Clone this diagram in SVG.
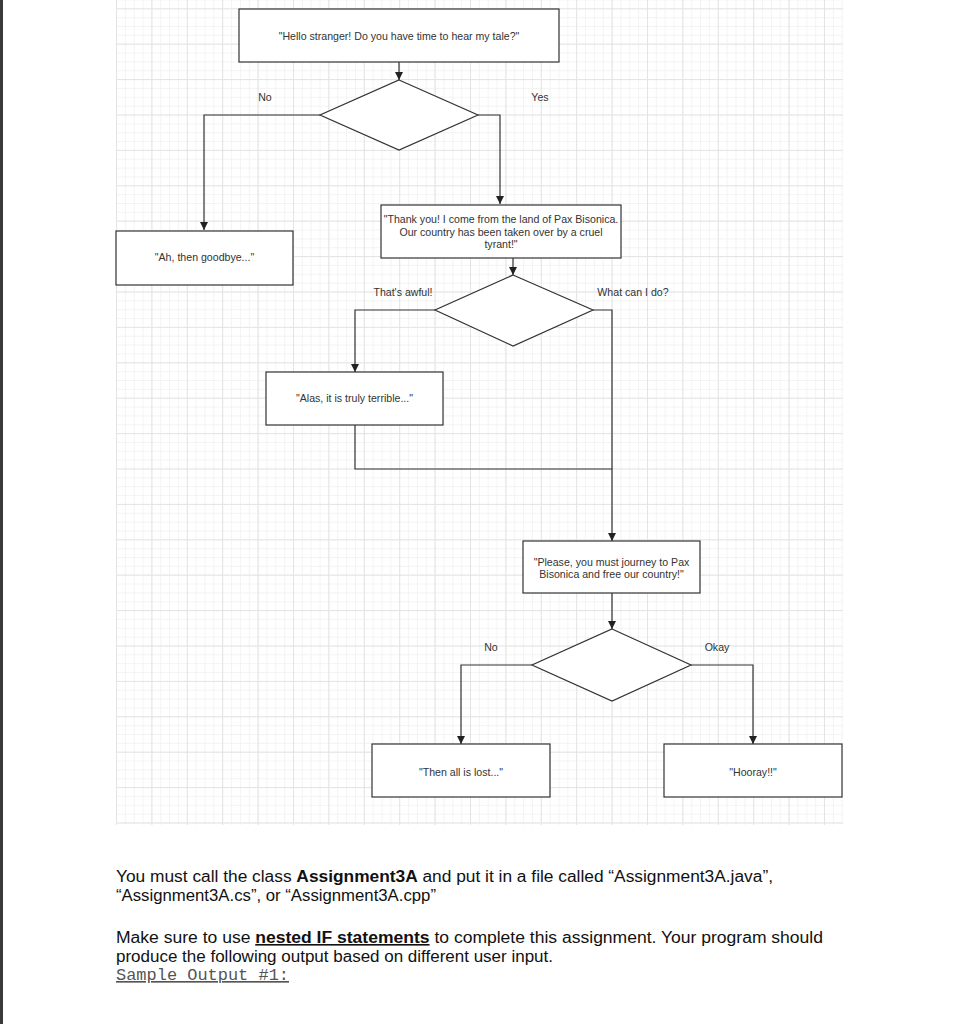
<svg xmlns="http://www.w3.org/2000/svg" width="954" height="1024" viewBox="0 0 954 1024">
<defs>
<pattern id="minor" patternUnits="userSpaceOnUse" x="116" y="8.3" width="8.85" height="8.85">
<path d="M0 0.5H8.85M0.5 0V8.85" fill="none" stroke="#f3f3f3" stroke-width="1"/>
</pattern>
<pattern id="major" patternUnits="userSpaceOnUse" x="116" y="8.3" width="35.4" height="35.4">
<path d="M0 0.5H35.4M0.5 0V35.4" fill="none" stroke="#e4e4e4" stroke-width="1"/>
</pattern>
<marker id="arr" markerUnits="userSpaceOnUse" markerWidth="10" markerHeight="10" refX="8" refY="4" orient="auto">
<path d="M0 0L8 4L0 8Z" fill="#222"/>
</marker>
<style>
.box{fill:#fff;stroke:#333;stroke-width:1.2}
.t{font-family:"Liberation Sans",Arial,sans-serif;font-size:10.6px;fill:#333;text-anchor:middle}
.c{fill:none;stroke:#333;stroke-width:1.2;marker-end:url(#arr)}
.cn{fill:none;stroke:#333;stroke-width:1.2}
.p{font-family:"Liberation Sans",Arial,sans-serif;font-size:16px;fill:#111}
</style>
</defs>
<rect width="954" height="1024" fill="#fff"/>
<rect x="0" y="0" width="3" height="1024" fill="#3a3a3a"/>
<rect x="116" y="0" width="727" height="825" fill="url(#minor)"/>
<rect x="116" y="0" width="727" height="825" fill="url(#major)"/>

<g id="connectors">
<path class="c" d="M399 62V80"/>
<path class="c" d="M320 115H204V230"/>
<path class="c" d="M478 115H500V204"/>
<path class="c" d="M513 258V275"/>
<path class="c" d="M435 310H355V372"/>
<path class="cn" d="M593 310H612V469"/>
<path class="c" d="M355 425V469H612V541"/>
<path class="c" d="M612 593V629"/>
<path class="c" d="M532 665H461V744"/>
<path class="c" d="M691 665H753V744"/>
</g>

<g id="n1"><rect class="box" x="239" y="9" width="320" height="53"/><text class="t" x="399" y="39.5">"Hello stranger! Do you have time to hear my tale?"</text></g>
<g id="d1"><path class="box" d="M399 80L478 115L399 150L320 115Z"/></g>
<g id="lbl-no1"><text class="t" x="265" y="100.5">No</text></g>
<g id="lbl-yes"><text class="t" x="540" y="100.5">Yes</text></g>
<g id="n2"><rect class="box" x="116" y="231" width="177" height="54"/><text class="t" x="204.5" y="261">"Ah, then goodbye..."</text></g>
<g id="n3"><rect class="box" x="381" y="205" width="240" height="53"/>
<text class="t" x="501" y="222.5">"Thank you! I come from the land of Pax Bisonica.</text>
<text class="t" x="501" y="235.5">Our country has been taken over by a cruel</text>
<text class="t" x="501" y="248">tyrant!"</text></g>
<g id="d2"><path class="box" d="M513 275L593 310L513 346L435 310Z"/></g>
<g id="lbl-awful"><text class="t" x="403" y="296">That's awful!</text></g>
<g id="lbl-what"><text class="t" x="633" y="296">What can I do?</text></g>
<g id="n4"><rect class="box" x="266" y="372" width="177" height="53"/><text class="t" x="354.5" y="402">"Alas, it is truly terrible..."</text></g>
<g id="n5"><rect class="box" x="523" y="541" width="177" height="52"/>
<text class="t" x="611.5" y="565.5">"Please, you must journey to Pax</text>
<text class="t" x="611.5" y="577.5">Bisonica and free our country!"</text></g>
<g id="d3"><path class="box" d="M612 629L691 665L612 701L532 665Z"/></g>
<g id="lbl-no2"><text class="t" x="491" y="651">No</text></g>
<g id="lbl-okay"><text class="t" x="717" y="651">Okay</text></g>
<g id="n6"><rect class="box" x="372" y="744" width="178" height="53"/><text class="t" x="461" y="776">"Then all is lost..."</text></g>
<g id="n7"><rect class="box" x="664" y="744" width="178" height="53"/><text class="t" x="753" y="776">"Hooray!!"</text></g>

<g id="bottom-text">
<text class="p" x="116" y="882" textLength="657" lengthAdjust="spacingAndGlyphs">You must call the class <tspan font-weight="bold">Assignment3A</tspan> and put it in a file called “Assignment3A.java”,</text>
<text class="p" x="116" y="901" textLength="320" lengthAdjust="spacingAndGlyphs">“Assignment3A.cs”, or “Assignment3A.cpp”</text>
<text class="p" x="116" y="943" textLength="707" lengthAdjust="spacingAndGlyphs">Make sure to use <tspan font-weight="bold" text-decoration="underline">nested IF statements</tspan> to complete this assignment. Your program should</text>
<text class="p" x="116" y="962" textLength="437" lengthAdjust="spacingAndGlyphs">produce the following output based on different user input.</text>
<text x="116" y="980" font-family="'Liberation Mono','Courier New',monospace" font-size="16.5px" fill="#555" text-decoration="underline" textLength="173" lengthAdjust="spacingAndGlyphs">Sample Output #1:</text>
</g>
</svg>
